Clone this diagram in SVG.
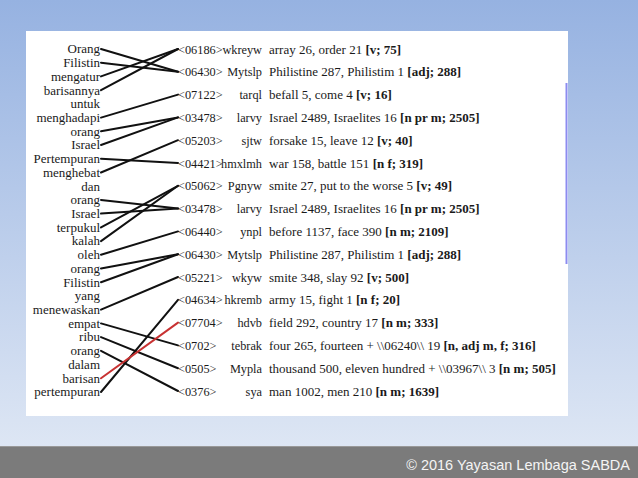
<svg xmlns="http://www.w3.org/2000/svg" width="638" height="478" viewBox="0 0 638 478">
<defs>
<linearGradient id="bg" x1="0" y1="0" x2="0" y2="1">
<stop offset="0" stop-color="#96b2e1"/>
<stop offset="1" stop-color="#dde6f4"/>
</linearGradient>
<style>
.w{font-family:"Liberation Serif","DejaVu Serif",serif;font-size:13px;fill:#1a1a1a;text-anchor:end}
.c{font-family:"Liberation Serif","DejaVu Serif",serif;font-size:12.3px;fill:#1a1a1a}
.n{font-family:"Liberation Serif","DejaVu Serif",serif;font-size:12.3px;fill:#1a1a1a;text-anchor:end}
.d{font-family:"Liberation Serif","DejaVu Serif",serif;font-size:13px;fill:#1a1a1a}
.b{font-weight:bold}
.ln{stroke:#111;stroke-width:2;fill:none;stroke-linecap:round}
.red{stroke:#c83232}
.ft{font-family:"Liberation Sans","DejaVu Sans",sans-serif;font-size:14.5px;fill:#f4f4f4;text-anchor:end}
</style>
</defs>
<rect x="0" y="0" width="638" height="446" fill="url(#bg)"/>
<rect x="0" y="446" width="638" height="32" fill="#7b7b7b"/>
<line x1="0" y1="446.5" x2="638" y2="446.5" stroke="#999" stroke-width="1"/>
<text class="ft" x="630" y="470">© 2016 Yayasan Lembaga SABDA</text>
<rect x="26" y="31" width="542" height="385" fill="#fff"/>
<line x1="566.5" y1="83" x2="566.5" y2="264" stroke="#8c8cf0" stroke-width="2"/>

<g id="left-words">
<g id="w0"><text class="w" x="100" y="53.3">Orang</text></g>
<g id="w1"><text class="w" x="100" y="67">Filistin</text></g>
<g id="w2"><text class="w" x="100" y="80.7">mengatur</text></g>
<g id="w3"><text class="w" x="100" y="94.5">barisannya</text></g>
<g id="w4"><text class="w" x="100" y="108.2">untuk</text></g>
<g id="w5"><text class="w" x="100" y="121.9">menghadapi</text></g>
<g id="w6"><text class="w" x="100" y="135.6">orang</text></g>
<g id="w7"><text class="w" x="100" y="149.3">Israel</text></g>
<g id="w8"><text class="w" x="100" y="163.1">Pertempuran</text></g>
<g id="w9"><text class="w" x="100" y="176.8">menghebat</text></g>
<g id="w10"><text class="w" x="100" y="190.5">dan</text></g>
<g id="w11"><text class="w" x="100" y="204.2">orang</text></g>
<g id="w12"><text class="w" x="100" y="217.9">Israel</text></g>
<g id="w13"><text class="w" x="100" y="231.7">terpukul</text></g>
<g id="w14"><text class="w" x="100" y="245.4">kalah</text></g>
<g id="w15"><text class="w" x="100" y="259.1">oleh</text></g>
<g id="w16"><text class="w" x="100" y="272.8">orang</text></g>
<g id="w17"><text class="w" x="100" y="286.5">Filistin</text></g>
<g id="w18"><text class="w" x="100" y="300.3">yang</text></g>
<g id="w19"><text class="w" x="100" y="314">menewaskan</text></g>
<g id="w20"><text class="w" x="100" y="327.7">empat</text></g>
<g id="w21"><text class="w" x="100" y="341.4">ribu</text></g>
<g id="w22"><text class="w" x="100" y="355.1">orang</text></g>
<g id="w23"><text class="w" x="100" y="368.9">dalam</text></g>
<g id="w24"><text class="w" x="100" y="382.6">barisan</text></g>
<g id="w25"><text class="w" x="100" y="396.3">pertempuran</text></g>
</g>

<g id="right-entries">
<g id="r0"><text class="c" x="178" y="53.5">&lt;06186&gt;</text><text class="n" x="262" y="53.5">wkreyw</text><text class="d" x="269" y="53.5">array 26, order 21 <tspan class="b">[v; 75]</tspan></text></g>
<g id="r1"><text class="c" x="178" y="76.3">&lt;06430&gt;</text><text class="n" x="262" y="76.3">Mytslp</text><text class="d" x="269" y="76.3">Philistine 287, Philistim 1 <tspan class="b">[adj; 288]</tspan></text></g>
<g id="r2"><text class="c" x="178" y="99.1">&lt;07122&gt;</text><text class="n" x="262" y="99.1">tarql</text><text class="d" x="269" y="99.1">befall 5, come 4 <tspan class="b">[v; 16]</tspan></text></g>
<g id="r3"><text class="c" x="178" y="121.9">&lt;03478&gt;</text><text class="n" x="262" y="121.9">larvy</text><text class="d" x="269" y="121.9">Israel 2489, Israelites 16 <tspan class="b">[n pr m; 2505]</tspan></text></g>
<g id="r4"><text class="c" x="178" y="144.7">&lt;05203&gt;</text><text class="n" x="262" y="144.7">sjtw</text><text class="d" x="269" y="144.7">forsake 15, leave 12 <tspan class="b">[v; 40]</tspan></text></g>
<g id="r5"><text class="c" x="178" y="167.5">&lt;04421&gt;</text><text class="n" x="262" y="167.5">hmxlmh</text><text class="d" x="269" y="167.5">war 158, battle 151 <tspan class="b">[n f; 319]</tspan></text></g>
<g id="r6"><text class="c" x="178" y="190.3">&lt;05062&gt;</text><text class="n" x="262" y="190.3">Pgnyw</text><text class="d" x="269" y="190.3">smite 27, put to the worse 5 <tspan class="b">[v; 49]</tspan></text></g>
<g id="r7"><text class="c" x="178" y="213.1">&lt;03478&gt;</text><text class="n" x="262" y="213.1">larvy</text><text class="d" x="269" y="213.1">Israel 2489, Israelites 16 <tspan class="b">[n pr m; 2505]</tspan></text></g>
<g id="r8"><text class="c" x="178" y="235.9">&lt;06440&gt;</text><text class="n" x="262" y="235.9">ynpl</text><text class="d" x="269" y="235.9">before 1137, face 390 <tspan class="b">[n m; 2109]</tspan></text></g>
<g id="r9"><text class="c" x="178" y="258.7">&lt;06430&gt;</text><text class="n" x="262" y="258.7">Mytslp</text><text class="d" x="269" y="258.7">Philistine 287, Philistim 1 <tspan class="b">[adj; 288]</tspan></text></g>
<g id="r10"><text class="c" x="178" y="281.5">&lt;05221&gt;</text><text class="n" x="262" y="281.5">wkyw</text><text class="d" x="269" y="281.5">smite 348, slay 92 <tspan class="b">[v; 500]</tspan></text></g>
<g id="r11"><text class="c" x="178" y="304.3">&lt;04634&gt;</text><text class="n" x="262" y="304.3">hkremb</text><text class="d" x="269" y="304.3">army 15, fight 1 <tspan class="b">[n f; 20]</tspan></text></g>
<g id="r12"><text class="c" x="178" y="327.1">&lt;07704&gt;</text><text class="n" x="262" y="327.1">hdvb</text><text class="d" x="269" y="327.1">field 292, country 17 <tspan class="b">[n m; 333]</tspan></text></g>
<g id="r13"><text class="c" x="178" y="349.9">&lt;0702&gt;</text><text class="n" x="262" y="349.9">tebrak</text><text class="d" x="269" y="349.9">four 265, fourteen + \\06240\\ 19 <tspan class="b">[n, adj m, f; 316]</tspan></text></g>
<g id="r14"><text class="c" x="178" y="372.7">&lt;0505&gt;</text><text class="n" x="262" y="372.7">Mypla</text><text class="d" x="269" y="372.7">thousand 500, eleven hundred + \\03967\\ 3 <tspan class="b">[n m; 505]</tspan></text></g>
<g id="r15"><text class="c" x="178" y="395.5">&lt;0376&gt;</text><text class="n" x="262" y="395.5">sya</text><text class="d" x="269" y="395.5">man 1002, men 210 <tspan class="b">[n m; 1639]</tspan></text></g>
</g>

<g id="connectors">
<line class="ln" x1="101" y1="49" x2="178" y2="71.8"/>
<line class="ln" x1="101" y1="62.7" x2="178" y2="71.8"/>
<line class="ln" x1="101" y1="76.4" x2="178" y2="49"/>
<line class="ln" x1="101" y1="90.2" x2="178" y2="49"/>
<line class="ln" x1="101" y1="117.6" x2="178" y2="94.6"/>
<line class="ln" x1="101" y1="131.3" x2="178" y2="117.4"/>
<line class="ln" x1="101" y1="145" x2="178" y2="117.4"/>
<line class="ln" x1="101" y1="158.8" x2="178" y2="163"/>
<line class="ln" x1="101" y1="172.5" x2="178" y2="140.2"/>
<line class="ln" x1="101" y1="199.9" x2="178" y2="208.6"/>
<line class="ln" x1="101" y1="213.6" x2="178" y2="208.6"/>
<line class="ln" x1="101" y1="227.4" x2="178" y2="185.8"/>
<line class="ln" x1="101" y1="241.1" x2="178" y2="185.8"/>
<line class="ln" x1="101" y1="254.8" x2="178" y2="231.4"/>
<line class="ln" x1="101" y1="268.5" x2="178" y2="254.2"/>
<line class="ln" x1="101" y1="282.2" x2="178" y2="254.2"/>
<line class="ln" x1="101" y1="309.7" x2="178" y2="277"/>
<line class="ln" x1="101" y1="323.4" x2="178" y2="345.4"/>
<line class="ln" x1="101" y1="337.1" x2="178" y2="368.2"/>
<line class="ln" x1="101" y1="350.8" x2="178" y2="391"/>
<line class="ln" x1="101" y1="392" x2="178" y2="299.8"/>
<line class="ln red" x1="101" y1="378.3" x2="178" y2="322.6"/>
</g>
</svg>
